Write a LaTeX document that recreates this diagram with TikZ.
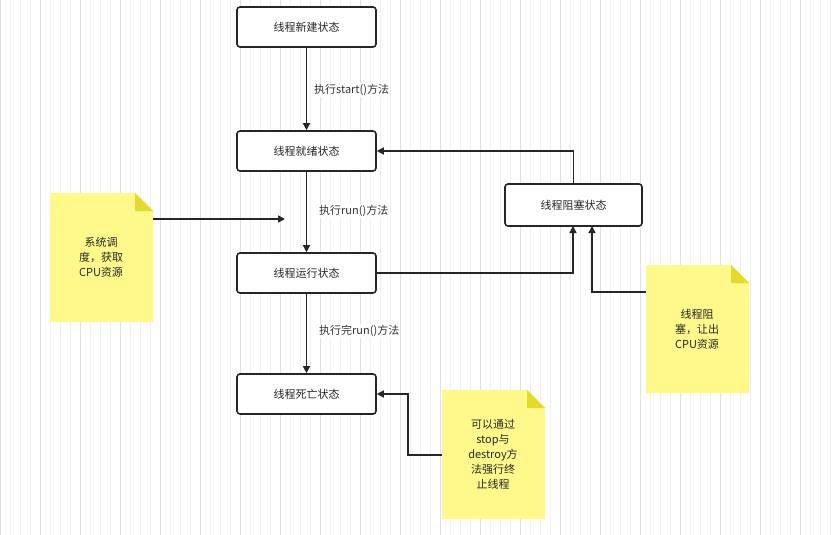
\documentclass[tikz,border=0pt]{standalone}
\usepackage{fontspec}
\setmainfont{Noto Sans CJK SC}
\usetikzlibrary{arrows.meta}
\begin{document}
\begin{tikzpicture}[x=1pt,y=-1pt,
  st/.style={draw=black!85,line width=1.6pt,rounded corners=3pt,fill=white,minimum width=139pt,minimum height=40pt,font=\fontsize{11}{13}\selectfont,text=black!85},
  ar/.style={draw=black!85,line width=1.4pt,-{Triangle[length=7pt,width=7pt]}},
  lb/.style={font=\fontsize{11}{13}\selectfont,text=black!80,fill=white,inner sep=1pt},
  nt/.style={font=\fontsize{11}{15}\selectfont,text=black!85,align=center}]
\useasboundingbox (0,0) rectangle (839,535);
\fill[white] (0,0) rectangle (839,535);
\draw[black!6,line width=0.5pt] (0,0) grid[step=10] (839,535);
\draw[black!12,line width=0.6pt] (0,0) grid[step=40] (839,535);
% notes
\newcommand{\mynote}[5]{%
 \fill[yellow!45] (#1,#2) -- (#3-18,#2) -- (#3,#2+18) -- (#3,#4) -- (#1,#4) -- cycle;
 \fill[yellow!70!olive!80] (#3-18,#2) -- (#3-18,#2+18) -- (#3,#2+18) -- cycle;
 \node[nt] (#5) at ({(#1+#3)/2},{(#2+#4)/2}) {};}
\mynote{50}{193}{153}{322}{n1}
\mynote{646}{265}{749}{393}{n2}
\mynote{442}{390}{545}{519}{n3}
\node[nt] at (101,257) {系统调\\度，获取\\CPU资源};
\node[nt] at (697,329) {线程阻\\塞，让出\\CPU资源};
\node[nt] at (493,454) {可以通过\\stop与\\destroy方\\法强行终\\止线程};
% states
\node[st] (new) at (306.5,27) {线程新建状态};
\node[st] (ready) at (306.5,151) {线程就绪状态};
\node[st] (run) at (306.5,273) {线程运行状态};
\node[st] (dead) at (306.5,394) {线程死亡状态};
\node[st,minimum width=137pt,minimum height=42pt] (blk) at (573.5,205) {线程阻塞状态};
\coordinate (bl1) at (573,226);
\coordinate (bl2) at (592,226);
\draw[ar] (new) -- (ready);
\draw[ar] (ready) -- (run);
\draw[ar] (run) -- (dead);
\node[lb,anchor=west] at (313,90) {执行start()方法};
\node[lb,anchor=west] at (318,211) {执行run()方法};
\node[lb,anchor=west] at (318,331) {执行完run()方法};
\draw[ar] (run.east) -| (bl1);
\draw[ar] (blk.north) |- (ready.east);
\draw[ar] (153,219) -- (285,219);
\draw[ar] (646,292) -| (bl2);
\draw[ar] (442,455) -| (408,394) -- (dead.east);
\end{tikzpicture}
\end{document}
